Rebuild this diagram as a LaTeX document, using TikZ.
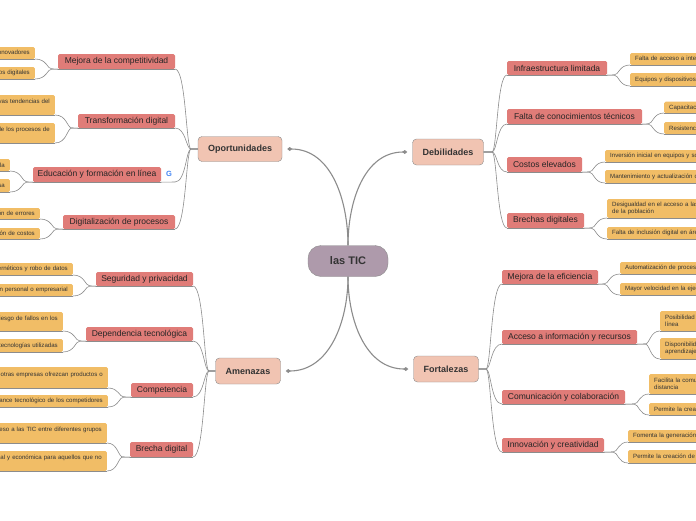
\documentclass[tikz,border=0pt]{standalone}
\usepackage{fontspec}
\setmainfont{Liberation Sans}
\usetikzlibrary{arrows.meta}
\definecolor{subred}{HTML}{E07C78}
\definecolor{leafor}{HTML}{F1BD66}
\definecolor{mainc}{HTML}{F1C4B2}
\definecolor{centc}{HTML}{AE9AAB}
\definecolor{lnc}{HTML}{8C8C8C}
\tikzset{
 sub/.style={fill=subred,rounded corners=1.5pt,inner sep=0pt,font=\fontsize{8.5}{9}\selectfont,text=black!85},
 leaf/.style={fill=leafor,rounded corners=1.5pt,inner sep=3pt,font=\fontsize{6.1}{6.8}\selectfont,text=black!80},
 mainn/.style={fill=mainc,draw=lnc,rounded corners=4pt,inner sep=0pt,font=\bfseries\fontsize{9}{10}\selectfont,text=black!80},
 cen/.style={fill=centc,draw=lnc,rounded corners=13pt,inner sep=0pt,font=\bfseries\fontsize{11}{12}\selectfont,text=black!80},
 ln/.style={draw=lnc,line width=0.6pt},
 big/.style={draw=lnc,line width=1.1pt,-{Diamond[length=5pt,width=4pt]}},
}
\newcommand\boxnode[7]{\node[#1,minimum width={(#4-#3)*1pt},minimum height={(#6-#5)*1pt}] (#2) at ({(#3+#4)/2},{(#5+#6)/2}) {#7};
 \draw[ln] (#2.south west) -- (#2.south east);}
\newcommand\leafR[5]{\node[leaf,anchor=west,minimum width=160pt,minimum height={(#4-#3)*1pt},text width=150pt,align=left] (#1) at (#2,{(#3+#4)/2}) {#5};
 \draw[ln] (#1.south west) -- (#1.south east);}
\newcommand\leafL[5]{\node[leaf,anchor=east,minimum width=230pt,minimum height={(#4-#3)*1pt},text width=220pt,align=right] (#1) at (#2,{(#3+#4)/2}) {#5};
 \draw[ln] (#1.south west) -- (#1.south east);}
% connectors: start anchor, junction x, start y, target x, target y
\newcommand\cL[5]{\draw[ln] (#1) -- ({#2+5},#3) .. controls (#2,#3) and (#2,#5) .. (#4,#5);}
\newcommand\cR[5]{\draw[ln] (#1) -- ({#2-5},#3) .. controls (#2,#3) and (#2,#5) .. (#4,#5);}
\begin{document}
\begin{tikzpicture}[x=1pt,y=-1pt]
\useasboundingbox (0,0) rectangle (696,520);
\clip (0,0) rectangle (696,520);
\fill[white] (0,0) rectangle (696,520);
% center and main
\node[cen,minimum width=80pt,minimum height=31pt] (tic) at (348,261) {las TIC};
\node[mainn,minimum width=84pt,minimum height=25pt] (op) at (240,149) {Oportunidades};
\node[mainn,minimum width=71pt,minimum height=26pt] (de) at (448,152) {Debilidades};
\node[mainn,minimum width=65pt,minimum height=26pt] (am) at (248,371) {Amenazas};
\node[mainn,minimum width=65pt,minimum height=26pt] (fo) at (446,369) {Fortalezas};
\draw[big] (tic.north) to[out=90,in=0] ([xshift=5pt]op.east);
\draw[big] (tic.north) to[out=90,in=180] ([xshift=-5pt]de.west);
\draw[big] (tic.south) to[out=270,in=0] ([xshift=5pt]am.east);
\draw[big] (tic.south) to[out=270,in=180] ([xshift=-5pt]fo.west);
% ---------- Oportunidades
\boxnode{sub}{o1}{58}{175}{54}{69}{Mejora de la competitividad}
\boxnode{sub}{o2}{78}{175}{114}{128}{Transformación digital}
\boxnode{sub}{o3}{33}{161}{167}{182}{Educación y formación en línea}
\boxnode{sub}{o4}{63}{175}{215}{229}{Digitalización de procesos}
\node[font=\bfseries\fontsize{7.5}{7.5}\selectfont,inner sep=0pt,text={rgb,255:red,66;green,133;blue,244}] (gg) at (169,174) {G};
\draw[ln] (o3.south east) -- (175,182);
\cL{op.west}{186}{149}{175}{69}
\cL{op.west}{186}{149}{175}{128}
\cL{op.west}{186}{149}{175}{182}
\cL{op.west}{186}{149}{175}{229}
\leafL{o11}{35}{47}{59}{Desarrollo de productos y servicios innovadores}
\leafL{o12}{35}{67}{79}{Nuevos modelos de negocios digitales}
\leafL{o21}{55}{95}{115}{Adaptación a las nuevas tendencias del\\\phantom{l}}
\leafL{o22}{55}{123}{143}{Optimización de los procesos de\\\phantom{l}}
\leafL{o31}{10}{159}{171}{Formación continua en la escuela}
\leafL{o32}{10}{179}{192}{Capacitación para la empresa}
\leafL{o41}{40}{208}{219}{Reducción de errores}
\leafL{o42}{40}{228}{239}{Reducción de costos}
\cL{o1.south west}{47}{69}{35}{59}\cL{o1.south west}{47}{69}{35}{79}
\cL{o2.south west}{67}{128}{55}{115}\cL{o2.south west}{67}{128}{55}{143}
\cL{o3.south west}{22}{182}{10}{171}\cL{o3.south west}{22}{182}{10}{192}
\cL{o4.south west}{52}{229}{40}{219}\cL{o4.south west}{52}{229}{40}{239}
% ---------- Amenazas
\boxnode{sub}{a1}{96}{193}{272}{286}{Seguridad y privacidad}
\boxnode{sub}{a2}{86}{193}{327}{341}{Dependencia tecnológica}
\boxnode{sub}{a3}{131}{193}{383}{397}{Competencia}
\boxnode{sub}{a4}{130}{193}{442}{457}{Brecha digital}
\cL{am.west}{204}{371}{193}{286}
\cL{am.west}{204}{371}{193}{341}
\cL{am.west}{204}{371}{193}{397}
\cL{am.west}{204}{371}{193}{457}
\leafL{a11}{73}{263}{275}{Riesgo de ataques cibernéticos y robo de datos}
\leafL{a12}{73}{284}{296}{Pérdida de información personal o empresarial}
\leafL{a21}{63}{312}{331}{Riesgo de fallos en los\\\phantom{l}}
\leafL{a22}{63}{339}{352}{Dependencia de las tecnologías utilizadas}
\leafL{a31}{108}{367}{388}{Posibilidad de que otras empresas ofrezcan productos o\\\phantom{l}}
\leafL{a32}{108}{395}{407}{Amenaza por el avance tecnológico de los competidores}
\leafL{a41}{107}{423}{443}{Desigualdad en el acceso a las TIC entre diferentes grupos\\\phantom{l}}
\leafL{a42}{107}{451}{471}{Exclusión social y económica para aquellos que no\\\phantom{l}}
\cL{a1.south west}{85}{286}{73}{275}\cL{a1.south west}{85}{286}{73}{296}
\cL{a2.south west}{75}{341}{63}{331}\cL{a2.south west}{75}{341}{63}{352}
\cL{a3.south west}{119}{397}{108}{388}\cL{a3.south west}{119}{397}{108}{407}
\cL{a4.south west}{118}{457}{107}{443}\cL{a4.south west}{118}{457}{107}{471}
% ---------- Debilidades
\boxnode{sub}{d1}{507}{607}{61}{75}{Infraestructura limitada}
\boxnode{sub}{d2}{507}{642}{109}{124}{Falta de conocimientos técnicos}
\boxnode{sub}{d3}{507}{582}{157}{172}{Costos elevados}
\boxnode{sub}{d4}{507}{584}{213}{228}{Brechas digitales}
\cR{de.east}{497}{152}{507}{75}
\cR{de.east}{497}{152}{507}{124}
\cR{de.east}{497}{152}{507}{172}
\cR{de.east}{497}{152}{507}{228}
\leafR{d11}{630}{53}{65}{Falta de acceso a internet en algunas zonas}
\leafR{d12}{630}{73}{86}{Equipos y dispositivos obsoletos}
\leafR{d21}{664}{102}{113}{Capacitación insuficiente}
\leafR{d22}{664}{122}{134}{Resistencia al cambio}
\leafR{d31}{605}{150}{162}{Inversión inicial en equipos y software}
\leafR{d32}{605}{170}{183}{Mantenimiento y actualización constante}
\leafR{d41}{607}{199}{218}{Desigualdad en el acceso a las TIC entre grupos\\de la población}
\leafR{d42}{607}{227}{239}{Falta de inclusión digital en áreas rurales}
\cR{d1.south east}{619}{75}{630}{65}\cR{d1.south east}{619}{75}{630}{86}
\cR{d2.south east}{653}{124}{664}{113}\cR{d2.south east}{653}{124}{664}{134}
\cR{d3.south east}{594}{172}{605}{162}\cR{d3.south east}{594}{172}{605}{183}
\cR{d4.south east}{596}{228}{607}{218}\cR{d4.south east}{596}{228}{607}{239}
% ---------- Fortalezas
\boxnode{sub}{f1}{502}{598}{270}{284}{Mejora de la eficiencia}
\boxnode{sub}{f2}{502}{637}{330}{344}{Acceso a información y recursos}
\boxnode{sub}{f3}{502}{625}{390}{404}{Comunicación y colaboración}
\boxnode{sub}{f4}{502}{604}{438}{452}{Innovación y creatividad}
\cR{fo.east}{491}{369}{502}{284}
\cR{fo.east}{491}{369}{502}{344}
\cR{fo.east}{491}{369}{502}{404}
\cR{fo.east}{491}{369}{502}{452}
\leafR{f11}{620}{262}{274}{Automatización de procesos}
\leafR{f12}{620}{283}{295}{Mayor velocidad en la ejecución de tareas}
\leafR{f21}{660}{311}{331}{Posibilidad de acceder a recursos en\\línea}
\leafR{f22}{660}{338}{359}{Disponibilidad de herramientas de\\aprendizaje en línea}
\leafR{f31}{649}{374}{394}{Facilita la comunicación a\\distancia}
\leafR{f32}{649}{403}{415}{Permite la creación de redes}
\leafR{f41}{628}{430}{442}{Fomenta la generación de ideas}
\leafR{f42}{628}{450}{463}{Permite la creación de nuevos productos}
\cR{f1.south east}{609}{284}{620}{274}\cR{f1.south east}{609}{284}{620}{295}
\cR{f2.south east}{650}{344}{660}{331}\cR{f2.south east}{650}{344}{660}{359}
\cR{f3.south east}{639}{404}{649}{394}\cR{f3.south east}{639}{404}{649}{415}
\cR{f4.south east}{618}{452}{628}{442}\cR{f4.south east}{618}{452}{628}{463}
\end{tikzpicture}
\end{document}
